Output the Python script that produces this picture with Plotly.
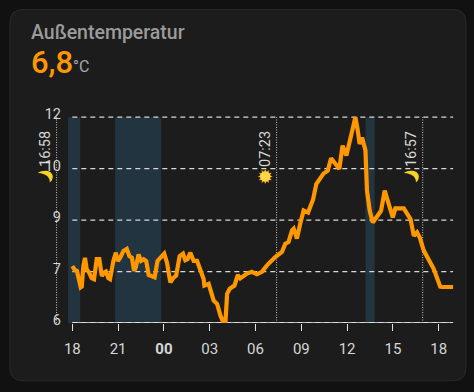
import math
import plotly.graph_objects as go

# Hours since 18:00 of the first day
hours = [0,.18,.3,.46,.55,.62,.72,.83,.94,1.1,1.27,1.42,1.6,1.77,1.93,2.08,2.2,2.36,2.47,2.69,2.85,2.98,3.13,3.35,3.57,3.74,3.9,4.05,4.16,4.34,4.5,4.67,4.84,5.0,5.2,5.39,5.58,5.8,6.02,6.2,6.42,6.6,6.8,7.03,7.25,7.4,7.55,7.73,7.95,8.17,8.34,8.6,8.65,8.93,9.26,9.48,9.7,9.88,10.03,10.14,10.31,10.62,10.84,11.0,11.44,11.76,12.09,12.42,12.75,13.29,13.73,13.95,14.16,14.39,14.5,14.71,14.93,15.15,15.44,15.77,15.98,16.25,16.46,16.73,16.95,17.23,17.49,17.7,17.95,18.28,18.54,18.7,18.82,18.98,19.2,19.3,19.48,19.68,20.07,20.22,20.46,20.73,20.99,21.16,21.71,22.15,22.37,22.58,22.76,23.02,23.45,23.67,24.1,24.22,24.94]
temps = [7.66,7.54,7.52,7.13,7.04,7.06,7.66,7.9,7.57,7.47,7.31,7.28,7.86,7.86,7.37,7.47,7.5,7.31,7.28,7.81,8.05,7.81,7.9,8.1,8.16,7.95,7.9,7.52,7.62,8.0,7.81,7.86,7.81,7.4,7.35,7.33,7.81,7.9,8.02,7.76,7.18,7.31,7.38,7.95,8.02,7.83,7.86,8.05,7.81,7.81,7.57,7.28,7.09,7.14,6.65,6.56,6.22,6.03,6.03,6.85,7.0,7.09,7.4,7.3,7.44,7.49,7.42,7.49,7.68,7.92,8.07,8.31,8.36,8.7,8.75,8.46,8.9,9.28,9.22,9.6,10.05,10.2,10.36,10.44,10.8,10.64,10.49,11.17,10.88,11.5,12.0,11.6,11.22,11.41,11.03,9.86,9.27,8.93,9.18,9.27,9.86,9.42,9.08,9.34,9.34,9.03,8.54,8.64,8.49,8.11,7.77,7.58,7.06,7.05,7.05]

tick_hours = [0,3,6,9,12,15,18,21,24]
tick_labels = ["18","21","<b>00</b>","03","06","09","12","15","18"]
y_ticks = [6,7.5,9,10.5,12]
y_labels = ["6","7","9","10","12"]

band_starts = [-0.28,2.8,19.2]
band_ends = [0.52,5.82,19.8]

sun_events = [(-1.03,"16:58","moon"),(13.38,"07:23","sun"),(22.95,"16:57","moon")]

title_text = "Außentemperatur"
value_text = "6,8"
unit_text = "°C"

W,H = 474,392
L,R,T,B = 54.0,20.45,99.5,69.3
XR = [-1.2,25.0]
YR = [6,12.5]
def px(x): return (x-L)/(W-L-R)
def py(y): return (H-B-y)/(H-T-B)
def fx(h): return (h-XR[0])/(XR[1]-XR[0])
def fy(v): return (v-YR[0])/(YR[1]-YR[0])

FONT = "Roboto"
ORANGE = "#FF9800"
shapes = []

# card
x0,x1,y0,y1,r = 10,465.5,9,380.5,13
card = (f"M {px(x0+r)} {py(y0)} L {px(x1-r)} {py(y0)} Q {px(x1)} {py(y0)} {px(x1)} {py(y0+r)} "
        f"L {px(x1)} {py(y1-r)} Q {px(x1)} {py(y1)} {px(x1-r)} {py(y1)} "
        f"L {px(x0+r)} {py(y1)} Q {px(x0)} {py(y1)} {px(x0)} {py(y1-r)} "
        f"L {px(x0)} {py(y0+r)} Q {px(x0)} {py(y0)} {px(x0+r)} {py(y0)} Z")
shapes.append(dict(type="path",path=card,xref="paper",yref="paper",layer="below",
                   fillcolor="#1c1c1c",line=dict(color="#2a2a2a",width=1)))

for a,b in zip(band_starts,band_ends):
    shapes.append(dict(type="rect",xref="x",yref="y",x0=a,x1=b,y0=6,y1=12,layer="below",
                       fillcolor="#21343f",line=dict(width=0)))

for v in y_ticks:
    shapes.append(dict(type="line",xref="x",yref="y",x0=0,x1=24.94,y0=v,y1=v,layer="below",
                       line=dict(color="#d8d8d8",width=1.3,dash="5px,4px")))
shapes.append(dict(type="line",xref="x",yref="y",x0=0,x1=24.94,y0=6,y1=6,layer="below",
                   line=dict(color="#f0f0f0",width=1.6)))

moon_path = "M -7.5 3.5 C -3 7 7 7 7.5 0 C 7.5 -3 6 -5 4.5 -6 C 5 -1 1 3 -7.5 3.5 Z"
def star_path(n=12,ro=7.4,ri=4.8):
    pts=[]
    for i in range(2*n):
        rad = ro if i%2==0 else ri
        a = math.pi*i/n
        pts.append(f"{rad*math.cos(a):.2f} {rad*math.sin(a):.2f}")
    return "M "+" L ".join(pts)+" Z"
def circle_path(rad=5.0,n=24):
    return "M "+" L ".join(f"{rad*math.cos(2*math.pi*i/n):.2f} {rad*math.sin(2*math.pi*i/n):.2f}" for i in range(n))+" Z"

annotations = []
Y_ICON = 10.27
Y_TEXT = 11.08
SHIFT = -11.3

for h,label,kind in sun_events:
    shapes.append(dict(type="line",xref="x",yref="y",x0=h,x1=h,y0=6,y1=12,layer="below",
                       line=dict(color="#c8c8c8",width=1,dash="1px,1.5px")))
    annotations.append(dict(x=h,y=Y_TEXT,xref="x",yref="y",text=label,textangle=-90,showarrow=False,
                            xshift=SHIFT,font=dict(family=FONT,size=14.5,color="#d6d6d6")))
    # paper anchors keep the icon outside the plot clip
    common = dict(type="path",xref="paper",yref="paper",xsizemode="pixel",ysizemode="pixel",
                  xanchor=fx(h)+SHIFT/(W-L-R),yanchor=fy(Y_ICON),layer="above",line=dict(width=0))
    if kind=="moon":
        shapes.append(dict(common,path=moon_path,fillcolor="#F6D326"))
    else:
        shapes.append(dict(common,path=star_path(),fillcolor="#FFA71A"))
        shapes.append(dict(common,path=circle_path(),fillcolor="#FFD84A"))

annotations += [
    dict(x=px(29),y=py(32),xref="paper",yref="paper",xanchor="left",yanchor="middle",showarrow=False,
         text=title_text,font=dict(family=FONT,size=19.5,color="#9b9b9b",weight=500)),
    dict(x=px(29),y=py(62),xref="paper",yref="paper",xanchor="left",yanchor="middle",showarrow=False,
         text=value_text,font=dict(family=FONT,size=31,color=ORANGE,weight=500)),
    dict(x=px(71),y=py(66),xref="paper",yref="paper",xanchor="left",yanchor="middle",showarrow=False,
         text=unit_text,font=dict(family=FONT,size=16,color="#a8a8a8")),
]

fig = go.Figure()
fig.add_trace(go.Scatter(x=hours,y=temps,mode="lines",cliponaxis=False,hoverinfo="skip",
                         line=dict(color=ORANGE,width=4.2,shape="linear")))
# carries the y labels, which sit about 3 px above their grid lines
fig.add_trace(go.Scatter(x=[0],y=[6],yaxis="y2",mode="lines",hoverinfo="skip",line=dict(width=0)))
d = 0.0875
fig.update_layout(
    width=W,height=H,showlegend=False,autosize=False,
    margin=dict(l=L,r=R,t=T,b=B,pad=0),
    paper_bgcolor="#111111",plot_bgcolor="rgba(0,0,0,0)",
    font=dict(family=FONT,color="#d6d6d6",size=14),
    shapes=shapes,annotations=annotations,
    xaxis=dict(range=XR,tickmode="array",tickvals=tick_hours,ticktext=tick_labels,
               showgrid=False,zeroline=False,showline=False,ticks="outside",ticklen=7,tickwidth=1,
               ticklabelstandoff=5,
               tickcolor="#e6e6e6",tickfont=dict(family=FONT,size=15,color="#d6d6d6"),automargin=False),
    yaxis=dict(range=YR,tickmode="array",tickvals=y_ticks,showticklabels=False,
               showgrid=False,zeroline=False,showline=False,ticks="",automargin=False),
    yaxis2=dict(range=[YR[0]-d,YR[1]-d],overlaying="y",side="left",anchor="x",tickmode="array",
                tickvals=y_ticks,ticktext=y_labels,showgrid=False,zeroline=False,showline=False,ticks="",
                ticklabelstandoff=-8,tickfont=dict(family=FONT,size=14.5,color="#d6d6d6"),automargin=False),
)
fig.write_html("out.html",config=dict(displayModeBar=False),
               post_script="document.body.style.margin='0';document.body.style.overflow='hidden';document.body.style.background='#111111';")
